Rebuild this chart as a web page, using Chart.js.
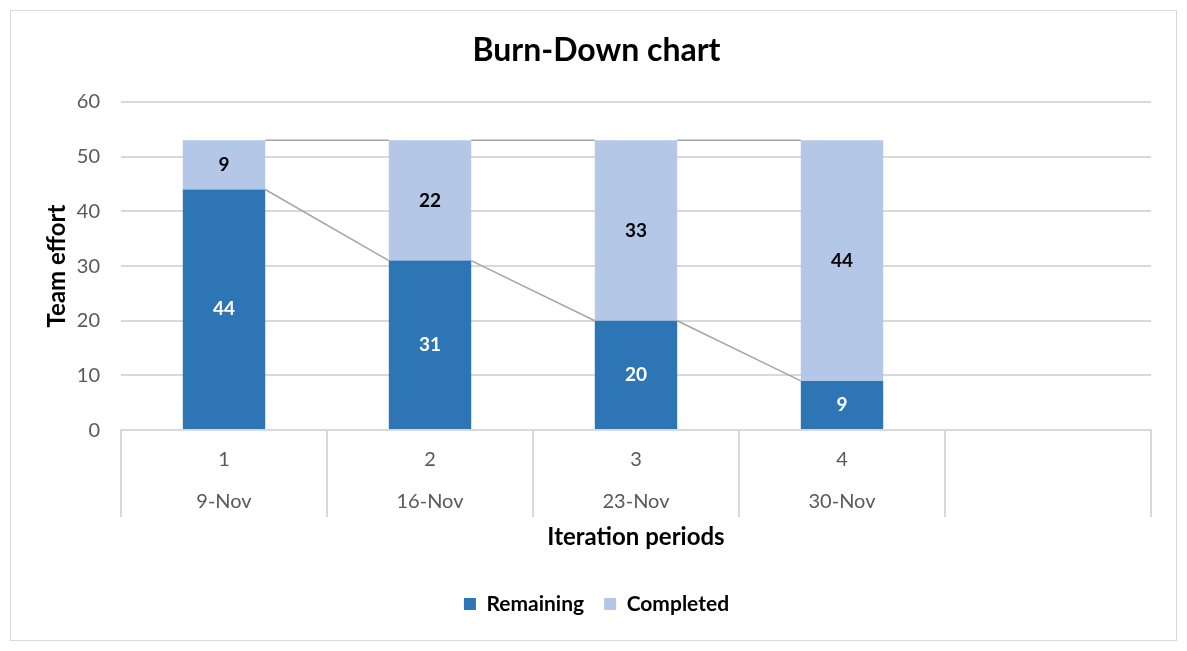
<!DOCTYPE html>
<html>
<head>
<meta charset="utf-8">
<script src="https://cdn.jsdelivr.net/npm/chart.js@4.4.1/dist/chart.umd.min.js"></script>
<style>
    body { margin: 0; background: #fff; }
    .chart-container {
        position: absolute; left: 10px; top: 10px;
        width: 1165px; height: 629px;
        border: 1px solid #d9d9d9;
    }
</style>
</head>
<body>
<div class="chart-container">
    <canvas id="myChart" width="1165" height="629"></canvas>
</div>
<script>
var iterations = ['1', '2', '3', '4', ''];
var dates = ['9-Nov', '16-Nov', '23-Nov', '30-Nov', ''];
var remaining = [44, 31, 20, 9, null];
var completed = [9, 22, 33, 44, null];
var yTicks = [0, 10, 20, 30, 40, 50, 60];

var font = "Lato, 'Open Sans', sans-serif";

var labels = [];
for (var i = 0; i < iterations.length; i++) {
    labels[i] = [iterations[i], dates[i]];
}

// labels in the middle of each bar segment
var barLabels = {
    id: 'barLabels',
    afterDatasetsDraw: function(chart) {
        var ctx = chart.ctx;
        ctx.save();
        ctx.font = "bold 19px " + font;
        ctx.textAlign = 'center';
        ctx.textBaseline = 'middle';
        chart.data.datasets.forEach(function(ds, di) {
            var meta = chart.getDatasetMeta(di);
            meta.data.forEach(function(bar, i) {
                if (ds.data[i] == null) return;
                var p = bar.getProps(['x', 'y', 'base'], true);
                ctx.fillStyle = di === 0 ? '#ffffff' : '#000000';
                ctx.fillText(ds.data[i], p.x, (p.y + p.base) / 2);
            });
        });
        ctx.restore();
    }
};

// excel style series lines between neighbouring bars
var seriesLines = {
    id: 'seriesLines',
    afterDatasetsDraw: function(chart) {
        var ctx = chart.ctx;
        ctx.save();
        ctx.strokeStyle = '#a5a5a5';
        ctx.lineWidth = 1.5;
        chart.data.datasets.forEach(function(ds, di) {
            var meta = chart.getDatasetMeta(di);
            for (var i = 0; i < meta.data.length - 1; i++) {
                if (ds.data[i] == null || ds.data[i + 1] == null) continue;
                var a = meta.data[i].getProps(['x', 'y', 'width'], true);
                var b = meta.data[i + 1].getProps(['x', 'y', 'width'], true);
                ctx.beginPath();
                ctx.moveTo(a.x + a.width / 2, a.y);
                ctx.lineTo(b.x - b.width / 2, b.y);
                ctx.stroke();
            }
        });
        ctx.restore();
    }
};

// vertical dividers of the two-level category axis
var categoryDividers = {
    id: 'categoryDividers',
    afterDraw: function(chart) {
        var ctx = chart.ctx;
        var xs = chart.scales.x;
        var top = chart.chartArea.bottom;
        ctx.save();
        ctx.strokeStyle = '#d9d9d9';
        ctx.lineWidth = 2;
        for (var i = 0; i <= labels.length; i++) {
            var x = xs.getPixelForValue(i - 0.5);
            ctx.beginPath();
            ctx.moveTo(x, top);
            ctx.lineTo(x, top + 87);
            ctx.stroke();
        }
        ctx.restore();
    }
};

new Chart(document.getElementById('myChart'), {
    type: 'bar',
    data: {
        labels: labels,
        datasets: [
            { label: 'Remaining', data: remaining, backgroundColor: '#2e75b6' },
            { label: 'Completed', data: completed, backgroundColor: '#b4c7e7' }
        ]
    },
    options: {
        responsive: false,
        animation: false,
        layout: { padding: { left: 31, right: 25, top: 0, bottom: 15.5 } },
        datasets: { bar: { categoryPercentage: 1, barPercentage: 0.4 } },
        plugins: {
            title: {
                display: true,
                text: 'Burn-Down chart',
                color: '#000',
                font: { family: font, size: 32, weight: 'bold' },
                padding: { top: 20, bottom: 32.6 }
            },
            legend: {
                position: 'bottom',
                labels: {
                    color: '#000',
                    boxWidth: 12,
                    boxHeight: 12,
                    padding: 20,
                    font: { family: font, size: 21, weight: 'bold' }
                }
            },
            tooltip: { enabled: false }
        },
        scales: {
            x: {
                stacked: true,
                grid: { drawOnChartArea: false, drawTicks: false, color: '#d9d9d9' },
                border: { color: '#d9d9d9', width: 2 },
                ticks: {
                    color: '#595959',
                    padding: 8,
                    maxRotation: 0,
                    font: { family: font, size: 20, lineHeight: 2.1 }
                },
                title: {
                    display: true,
                    text: 'Iteration periods',
                    color: '#000',
                    font: { family: font, size: 24, weight: 'bold' },
                    padding: { top: -7.4, bottom: 22 }
                }
            },
            y: {
                stacked: true,
                min: 0,
                max: 60,
                afterBuildTicks: function(scale) {
                    scale.ticks = yTicks.map(function(v) { return { value: v }; });
                },
                afterFit: function(scale) {
                    scale.width = 79;
                },
                grid: { color: '#d9d9d9', lineWidth: 2, drawTicks: false },
                border: { display: false },
                ticks: {
                    color: '#595959',
                    padding: 21,
                    font: { family: font, size: 20 }
                },
                title: {
                    display: true,
                    text: 'Team effort',
                    color: '#000',
                    font: { family: font, size: 24, weight: 'bold' },
                    padding: { top: 0.6, bottom: 0 }
                }
            }
        }
    },
    plugins: [seriesLines, barLabels, categoryDividers]
});
</script>
</body>
</html>
